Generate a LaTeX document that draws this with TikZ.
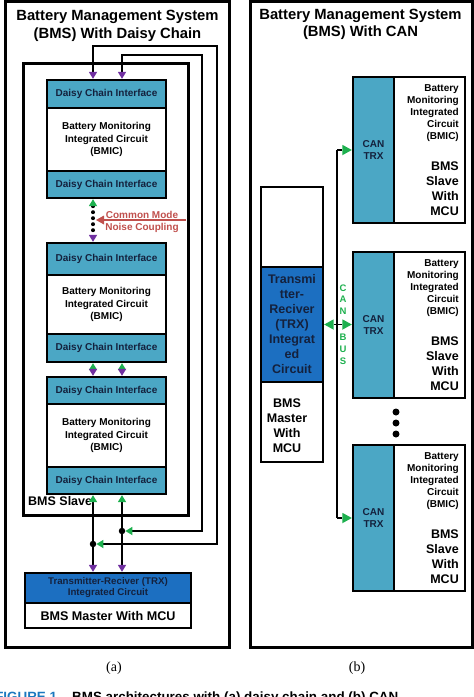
\documentclass[tikz,border=0pt]{standalone}
\usepackage{fontspec}
\setmainfont{Liberation Sans}
\newfontfamily\capserif{Liberation Serif}
\usetikzlibrary{arrows.meta,calc}
\definecolor{cteal}{HTML}{4BA7C5}
\definecolor{ctrx}{HTML}{1C6FC1}
\definecolor{cnavy}{HTML}{14213D}
\definecolor{cgreen}{HTML}{1DB04E}
\definecolor{cpurple}{HTML}{7030A0}
\definecolor{cred}{HTML}{C0504D}
\definecolor{ccap}{HTML}{1B78BE}
\newcommand{\fsz}[2]{\fontsize{#1}{#2}\selectfont\bfseries}
\tikzset{
  gtip/.tip={Triangle[width=8.5pt,length=7pt,line width=0pt,color=cgreen]},
  ptip/.tip={Triangle[width=8.5pt,length=7pt,line width=0pt,color=cpurple]},
  btip/.tip={Triangle[width=10.5pt,length=9.5pt,line width=0pt,color=cgreen]},
  rtip/.tip={Triangle[width=9pt,length=8pt,line width=0pt,color=cred]},
  frame/.style={draw, line width=3pt, inner sep=0pt},
  boxpart/.style={draw, line width=2.4pt, inner sep=0pt, align=center},
  dci/.style={boxpart, fill=cteal, minimum width=119pt, text=cnavy, font=\fsz{10}{12}},
  bmic/.style={boxpart, fill=white, minimum width=119pt, font=\fsz{10}{12.4}},
  title/.style={align=center, inner sep=0pt, font=\fsz{14.8}{17.5}},
  wire/.style={line width=1.5pt},
  dotlink/.style={line width=4pt, line cap=round, dash pattern=on 0pt off 6pt},
  jdot/.style={circle, fill=black, inner sep=0pt, minimum size=6.5pt},
  sublabel/.style={font=\capserif\fontsize{14}{16}\selectfont},
}
\begin{document}
\begin{tikzpicture}[x=1pt,y=-1pt]
\useasboundingbox (0,0) rectangle (474,697);
\clip (0,0) rectangle (474,697);
% ================= Panel (a) =================
\node[frame, minimum width=224pt, minimum height=646pt] (frameA) at (117,324) {};
\node[title] (titleA) at (117.5,26) {Battery Management System\\(BMS) With Daisy Chain};
\node[frame, minimum width=165pt, minimum height=452pt] (slaveA) at (105.5,289) {};
\node[anchor=base west, inner sep=0pt, font=\fsz{12.5}{15}] (slaveLbl) at (28,505.5) {BMS Slave};
% modules
\node[dci, minimum height=28pt] (m1t) at (106.5,94) {Daisy Chain Interface};
\node[bmic, minimum height=63pt] (m1w) at (106.5,139.5) {Battery Monitoring\\Integrated Circuit\\(BMIC)};
\node[dci, minimum height=27pt] (m1b) at (106.5,184.5) {Daisy Chain Interface};
\node[dci, minimum height=32pt] (m2t) at (106.5,259) {Daisy Chain Interface};
\node[bmic, minimum height=59pt] (m2w) at (106.5,304.5) {Battery Monitoring\\Integrated Circuit\\(BMIC)};
\node[dci, minimum height=28pt] (m2b) at (106.5,348) {Daisy Chain Interface};
\node[dci, minimum height=27pt] (m3t) at (106.5,390.5) {Daisy Chain Interface};
\node[bmic, minimum height=63pt] (m3w) at (106.5,435.5) {Battery Monitoring\\Integrated Circuit\\(BMIC)};
\node[dci, minimum height=27pt] (m3b) at (106.5,480.5) {Daisy Chain Interface};
% master
\node[boxpart, fill=ctrx, minimum width=166pt, minimum height=30pt, text=cnavy, font=\fsz{9.7}{11}] (trxA) at (108,588) {Transmitter-Reciver (TRX)\\Integrated Circuit};
\node[boxpart, fill=white, minimum width=166pt, minimum height=25pt, font=\fsz{12.6}{15}] (mcuA) at (108,615.5) {BMS Master With MCU};
% links
\coordinate (xa) at (93,0);
\coordinate (xb) at (122,0);
\draw[dotlink, gtip-ptip] (m1b.south -| xa) -- (m2t.north -| xa);
\draw[wire, gtip-ptip] (m2b.south -| xa) -- (m3t.north -| xa);
\draw[wire, gtip-ptip] (m2b.south -| xb) -- (m3t.north -| xb);
\draw[wire, gtip-ptip] (m3b.south -| xa) -- (trxA.north -| xa);
\draw[wire, gtip-ptip] (m3b.south -| xb) -- (trxA.north -| xb);
\node[jdot] (dotA) at (93,544) {};
\node[jdot] (dotB) at (122,531) {};
\draw[wire, gtip-ptip] (dotA) -- (217,544) -- (217,46) -- (93,46) -- (m1t.north -| xa);
\draw[wire, gtip-ptip] (dotB) -- (202,531) -- (202,55) -- (122,55) -- (m1t.north -| xb);
% noise coupling
\node[align=center, inner sep=0pt, text=cred, font=\fsz{10}{12.3}] (noise) at (142,221.6) {Common Mode\\Noise Coupling};
\coordinate (noiseEnd) at (186,220);
\coordinate (noiseTip) at (96,220);
\draw[line width=1.5pt, cred, -rtip] (noiseEnd) -- (noiseTip);
\node[sublabel] (labA) at (114,668) {(a)};
% ================= Panel (b) =================
\node[frame, minimum width=222pt, minimum height=646pt] (frameB) at (361,324) {};
\node[title] (titleB) at (360.5,24.5) {Battery Management System\\(BMS) With CAN};
\node[boxpart, fill=white, minimum width=62pt, minimum height=80pt] (mtop) at (292,227) {};
\node[boxpart, fill=ctrx, minimum width=62pt, minimum height=115pt, text=cnavy, font=\fsz{12.5}{15}] (mtrx) at (292,324.5) {Transmi\\tter-\\Reciver\\(TRX)\\Integrat\\ed\\Circuit};
\node[boxpart, fill=white, minimum width=62pt, minimum height=80pt] (mbot) at (292,422) {};
\node[align=center, inner sep=0pt, font=\fsz{12.5}{15}] (mbotTxt) at (287,425.5) {BMS\\Master\\With\\MCU};
\foreach \n/\y in {1/150, 2/325, 3/518} {
  \node[boxpart, fill=cteal, minimum width=41pt, minimum height=146pt, text=cnavy, font=\fsz{10}{12}] (can\n) at (373.5,\y) {CAN\\TRX};
  \node[boxpart, fill=white, minimum width=71pt, minimum height=146pt] (slw\n) at (429.5,\y) {};
  \node[align=right, anchor=east, inner sep=0pt, font=\fsz{10}{12}] (bmic\n) at (459,\y-36.6) {Battery\\Monitoring\\Integrated\\Circuit\\(BMIC)};
  \node[align=right, anchor=east, inner sep=0pt, font=\fsz{12.5}{15}] (bms\n) at (459,\y+38.25) {BMS\\Slave\\With\\MCU};
}
\coordinate (busx) at (337,0);
\draw[wire] (can1.west -| busx) -- (can3.west -| busx);
\draw[wire, -btip] (can1.west -| busx) -- (can1.west);
\draw[wire, -btip] (can3.west -| busx) -- (can3.west);
\draw[wire, btip-btip] (mtrx.east) -- (mtrx.east -| can2.west);
\node[align=center, inner sep=0pt, text=cgreen, font=\fsz{9.5}{11.7}] (canbusA) at (343,299.5) {C\\A\\N};
\node[align=center, inner sep=0pt, text=cgreen, font=\fsz{9.5}{12}] (canbusB) at (343,349) {B\\U\\S};
\fill (396,412) circle (3.5pt);
\fill (396,423) circle (3.5pt);
\fill (396,434) circle (3.5pt);
\node[sublabel] (labB) at (357,668) {(b)};
% caption (cut off at the bottom edge)
\node[anchor=base east, inner sep=0pt, text=ccap, font=\fsz{13.4}{15}] (figno) at (61,701.5) {FIGURE 1.};
\node[anchor=base west, inner sep=0pt, font=\fsz{13.4}{15}] (captxt) at (72,701.5) {BMS architectures with (a) daisy chain and (b) CAN};
\end{tikzpicture}
\end{document}
